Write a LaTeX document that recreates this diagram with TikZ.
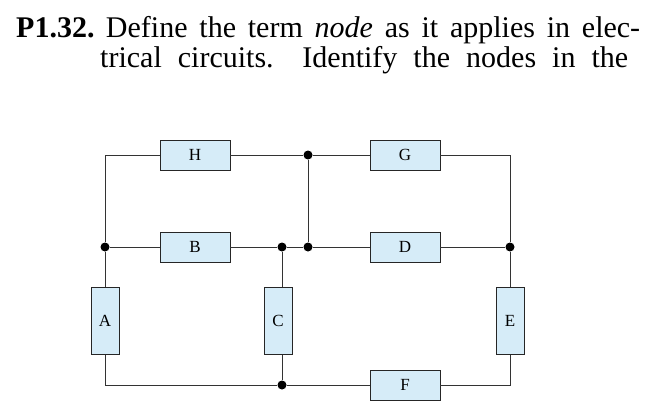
\documentclass[tikz,border=0pt]{standalone}
\usepackage{fontspec}
\setmainfont{Liberation Serif}
\begin{document}
\begin{tikzpicture}[x=1pt,y=-1pt,
  wire/.style={line width=0.8pt, black!80},
  hbox/.style={draw=black!85, line width=0.8pt, fill={rgb,255:red,214;green,236;blue,248}, minimum width=70pt, minimum height=30pt, inner sep=0pt, font=\fontsize{17}{17}\selectfont},
  vbox/.style={draw=black!85, line width=0.8pt, fill={rgb,255:red,214;green,236;blue,248}, minimum width=28pt, minimum height=67pt, inner sep=0pt, font=\fontsize{17}{17}\selectfont},
  dot/.style={circle, fill=black, inner sep=0pt, minimum size=9pt}]
\useasboundingbox (0,0) rectangle (648,420);
\node[anchor=base west, inner sep=0pt, font=\fontsize{30}{32}\selectfont] (t1) at (16,38) {\hbox to 624pt{\textbf{P1.32.}\hskip 0pt plus 10pt Define the term \textit{node} as it applies in elec-}};
\node[anchor=base west, inner sep=0pt, font=\fontsize{30}{32}\selectfont] (t2) at (100,68) {\hbox to 528pt{trical circuits.\hskip 6pt plus 10pt Identify the nodes in the}};
\coordinate (tl) at (105,155); \coordinate (tr) at (510,155);
\coordinate (bl) at (105,385); \coordinate (br) at (510,385);
\node[dot] (n1) at (308,155) {};
\node[dot] (n2) at (105,247) {};
\node[dot] (n3) at (282,247) {};
\node[dot] (n4) at (308,247) {};
\node[dot] (n5) at (510,247) {};
\node[dot] (n6) at (282,385) {};
\node[hbox] (H) at (195,155) {H};
\node[hbox] (G) at (405,155) {G};
\node[hbox] (B) at (195,247) {B};
\node[hbox] (D) at (405,247) {D};
\node[hbox] (F) at (405,385) {F};
\node[vbox] (A) at (105,321) {A};
\node[vbox] (C) at (278,321) {C};
\node[vbox] (E) at (510,321) {E};
\draw[wire] (n2) -- (tl) -- (H.west);
\draw[wire] (H.east) -- (n1) -- (G.west);
\draw[wire] (G.east) -- (tr) -- (n5);
\draw[wire] (n1) -- (n4);
\draw[wire] (n2) -- (B.west);
\draw[wire] (B.east) -- (n3) -- (n4) -- (D.west);
\draw[wire] (D.east) -- (n5);
\draw[wire] (n2) -- (A.north);
\draw[wire] (A.south) -- (bl) -- (n6) -- (F.west);
\draw[wire] (F.east) -- (br) -- (E.south);
\draw[wire] (E.north) -- (n5);
\draw[wire] (n3) -- (n3|-C.north);
\draw[wire] (n6) -- (n6|-C.south);
\end{tikzpicture}
\end{document}
